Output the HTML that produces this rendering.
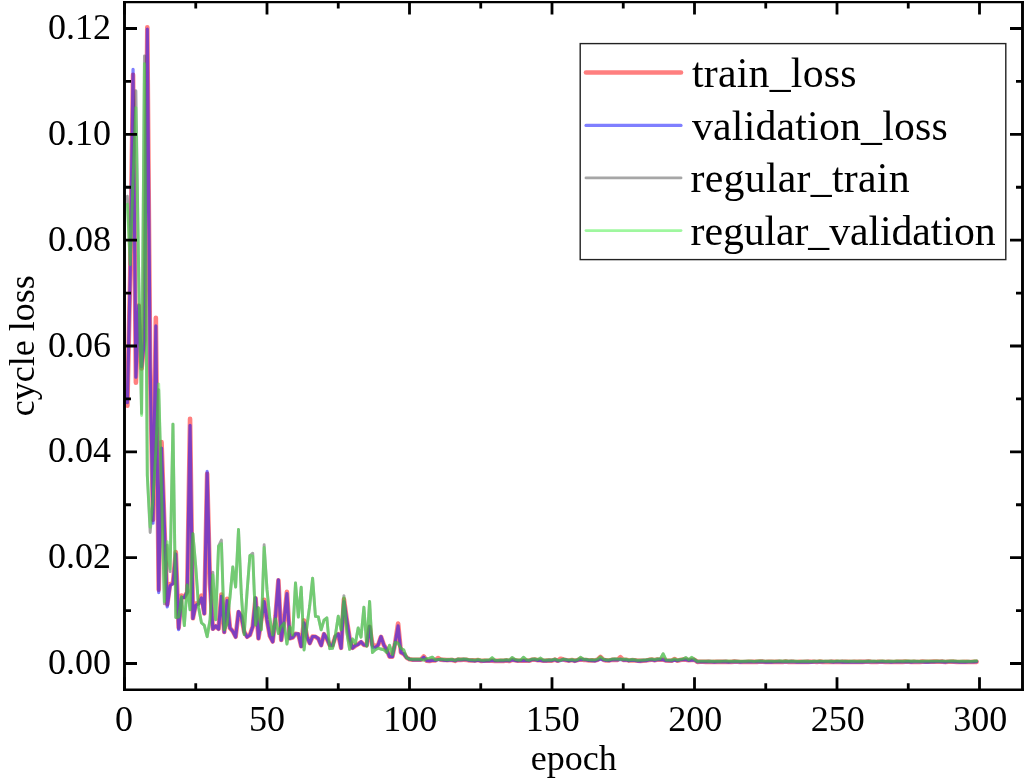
<!DOCTYPE html>
<html lang="en"><head><meta charset="utf-8"><title>cycle loss</title>
<style>html,body{margin:0;padding:0;background:#fff;overflow:hidden}svg{display:block}</style>
</head><body>
<svg width="1025" height="779" viewBox="0 0 1025 779">
<rect width="1025" height="779" fill="#fff"/>
<g fill="none" stroke-linejoin="round" stroke-linecap="round">
<polyline points="127.35,405.79 130.20,275.09 133.05,74.85 135.90,382.73 138.75,305.56 141.60,368.44 144.45,340.71 147.30,27.22 150.15,367.16 153.00,519.78 155.85,317.74 158.70,589.63 161.55,442.09 164.40,525.92 167.25,604.45 170.10,583.91 172.95,583.28 175.80,552.16 178.65,627.73 181.50,595.55 184.35,597.04 187.20,592.06 190.05,418.81 192.90,618.21 195.75,603.49 198.60,603.39 201.45,595.55 204.30,613.45 207.15,473.84 210.00,584.12 212.85,628.79 215.70,626.24 218.55,628.79 221.40,594.49 224.25,631.97 227.10,598.72 229.95,628.05 232.80,631.22 235.65,636.73 238.50,611.95 241.35,616.40 244.20,631.75 247.05,636.73 249.90,634.92 252.75,626.46 255.60,598.20 258.45,638.32 261.30,620.11 264.15,599.78 267.00,620.11 269.85,635.98 272.70,641.49 275.55,615.87 278.40,580.20 281.25,639.90 284.10,620.11 286.95,591.85 289.80,638.32 292.65,637.57 295.50,633.87 298.35,634.18 301.20,646.25 304.05,620.42 306.90,636.51 309.75,643.08 312.60,636.51 315.45,636.82 318.30,638.63 321.15,645.20 324.00,634.18 326.85,638.63 329.70,644.98 332.55,645.20 335.40,636.51 338.25,634.18 341.10,647.84 343.95,599.25 346.80,620.11 349.65,638.63 352.50,647.84 355.35,645.82 358.20,644.14 361.05,642.12 363.90,644.98 366.75,645.20 369.60,626.77 372.45,644.67 375.30,646.04 378.15,644.98 381.00,636.82 383.85,644.98 386.70,649.74 389.55,656.62 392.40,656.62 395.25,642.33 398.10,623.60 400.95,652.39 403.80,653.97 406.65,657.68 409.50,659.27 412.35,659.80 415.20,659.80 418.05,659.80 420.90,659.80 423.75,656.40 426.60,660.66 429.45,661.04 432.30,660.25 435.15,660.48 438.00,658.12 440.85,659.73 443.70,659.85 446.55,660.08 449.40,660.00 452.25,660.05 455.10,660.91 457.95,659.74 460.80,659.85 463.65,659.81 466.50,659.83 469.35,660.44 472.20,660.21 475.05,660.61 477.90,660.02 480.75,660.90 483.60,660.67 486.45,660.68 489.30,660.73 492.15,660.60 495.00,660.87 497.85,660.91 500.70,660.70 503.55,660.86 506.40,660.41 509.25,661.03 512.10,659.78 514.95,660.19 517.80,660.73 520.65,660.71 523.50,660.58 526.35,660.47 529.20,660.82 532.05,659.71 534.90,659.53 537.75,660.19 540.60,660.19 543.45,660.72 546.30,660.65 549.15,660.47 552.00,660.60 554.85,659.61 557.70,660.80 560.55,658.69 563.40,659.55 566.25,660.33 569.10,660.60 571.95,660.04 574.80,660.83 577.65,660.11 580.50,659.46 583.35,659.83 586.20,659.94 589.05,660.55 591.90,660.30 594.75,660.58 597.60,659.74 600.45,656.97 603.30,659.71 606.15,660.40 609.00,660.54 611.85,659.88 614.70,659.70 617.55,659.85 620.40,657.20 623.25,659.91 626.10,659.78 628.95,660.58 631.80,660.15 634.65,660.38 637.50,660.81 640.35,660.87 643.20,660.68 646.05,660.46 648.90,659.88 651.75,659.59 654.60,660.28 657.45,659.57 660.30,659.69 663.15,659.52 666.00,660.48 668.85,660.74 671.70,660.67 674.55,658.98 677.40,660.72 680.25,659.97 683.10,659.52 685.95,659.75 688.80,660.28 691.65,660.02 694.50,659.75 697.35,661.91 700.20,661.77 703.05,661.68 705.90,661.90 708.75,661.89 711.60,661.94 714.45,661.88 717.30,661.83 720.15,661.89 723.00,661.92 725.85,661.85 728.70,661.97 731.55,661.84 734.40,661.66 737.25,661.73 740.10,662.03 742.95,661.97 745.80,661.98 748.65,661.74 751.50,661.88 754.35,661.85 757.20,661.85 760.05,661.56 762.90,661.67 765.75,662.06 768.60,661.86 771.45,661.88 774.30,661.87 777.15,661.73 780.00,661.89 782.85,661.94 785.70,661.58 788.55,661.97 791.40,661.72 794.25,661.87 797.10,661.94 799.95,661.79 802.80,662.04 805.65,661.84 808.50,661.83 811.35,661.81 814.20,661.82 817.05,662.06 819.90,661.60 822.75,661.91 825.60,662.02 828.45,661.99 831.30,661.73 834.15,661.90 837.00,661.79 839.85,661.97 842.70,661.90 845.55,661.91 848.40,661.90 851.25,662.04 854.10,661.88 856.95,661.91 859.80,661.89 862.65,661.83 865.50,661.80 868.35,661.66 871.20,661.91 874.05,661.96 876.90,661.89 879.75,661.68 882.60,661.74 885.45,662.03 888.30,661.86 891.15,662.01 894.00,662.07 896.85,661.90 899.70,661.75 902.55,661.91 905.40,661.64 908.25,661.81 911.10,661.95 913.95,661.82 916.80,661.96 919.65,661.90 922.50,661.65 925.35,661.75 928.20,661.75 931.05,661.82 933.90,661.59 936.75,661.66 939.60,661.72 942.45,661.65 945.30,662.08 948.15,661.77 951.00,661.73 953.85,661.67 956.70,661.93 959.55,662.05 962.40,662.02 965.25,661.86 968.10,662.06 970.95,662.00 973.80,661.86 976.65,661.83" stroke="#ff0000" stroke-opacity="0.5" stroke-width="4.6"/>
<polyline points="127.35,402.62 130.20,275.09 133.05,69.25 135.90,377.21 138.75,305.26 141.60,366.62 144.45,340.71 147.30,29.04 150.15,367.16 153.00,523.26 155.85,325.90 158.70,592.58 161.55,448.14 164.40,525.92 167.25,606.87 170.10,585.72 172.95,583.58 175.80,553.97 178.65,629.62 181.50,597.90 184.35,597.34 187.20,592.06 190.05,425.39 192.90,618.51 195.75,605.30 198.60,603.69 201.45,597.90 204.30,613.75 207.15,471.42 210.00,584.12 212.85,629.09 215.70,625.94 218.55,629.09 221.40,596.31 224.25,632.27 227.10,600.54 229.95,628.05 232.80,631.22 235.65,637.03 238.50,611.65 241.35,616.40 244.20,631.75 247.05,637.03 249.90,634.92 252.75,626.46 255.60,597.90 258.45,638.62 261.30,620.11 264.15,601.60 267.00,620.11 269.85,635.98 272.70,641.79 275.55,615.87 278.40,579.90 281.25,640.20 284.10,620.11 286.95,593.66 289.80,638.62 292.65,637.57 295.50,633.87 298.35,633.88 301.20,646.55 304.05,622.77 306.90,636.51 309.75,643.38 312.60,636.51 315.45,636.52 318.30,638.63 321.15,645.50 324.00,633.88 326.85,638.63 329.70,644.98 332.55,645.50 335.40,636.51 338.25,633.88 341.10,648.14 343.95,601.60 346.80,620.11 349.65,638.63 352.50,648.14 355.35,645.52 358.20,644.44 361.05,641.82 363.90,644.98 366.75,645.50 369.60,626.47 372.45,647.08 375.30,647.62 378.15,644.98 381.00,636.52 383.85,644.98 386.70,649.74 389.55,656.62 392.40,656.62 395.25,642.33 398.10,625.94 400.95,652.39 403.80,653.97 406.65,657.68 409.50,659.27 412.35,659.80 415.20,659.80 418.05,659.80 420.90,659.80 423.75,657.16 426.60,660.58 429.45,660.86 432.30,660.51 435.15,660.46 438.00,659.77 440.85,659.68 443.70,660.10 446.55,660.41 449.40,660.27 452.25,660.18 455.10,660.81 457.95,659.78 460.80,660.03 463.65,659.68 466.50,659.76 469.35,660.49 472.20,660.58 475.05,660.97 477.90,660.27 480.75,660.98 483.60,661.05 486.45,660.81 489.30,660.87 492.15,660.52 495.00,660.82 497.85,660.93 500.70,660.83 503.55,660.90 506.40,660.50 509.25,661.02 512.10,659.86 514.95,660.31 517.80,660.88 520.65,660.52 523.50,660.65 526.35,660.51 529.20,660.80 532.05,659.73 534.90,659.74 537.75,660.44 540.60,660.43 543.45,660.93 546.30,660.89 549.15,660.40 552.00,660.54 554.85,659.75 557.70,660.94 560.55,660.60 563.40,659.64 566.25,660.16 569.10,660.82 571.95,660.24 574.80,661.13 577.65,660.32 580.50,659.53 583.35,659.72 586.20,659.94 589.05,660.50 591.90,660.59 594.75,660.91 597.60,660.06 600.45,659.21 603.30,659.88 606.15,660.42 609.00,660.64 611.85,659.85 614.70,659.57 617.55,659.85 620.40,659.36 623.25,660.03 626.10,659.91 628.95,660.79 631.80,660.17 634.65,660.48 637.50,661.04 640.35,661.09 643.20,660.71 646.05,660.61 648.90,660.00 651.75,659.82 654.60,660.53 657.45,659.72 660.30,659.63 663.15,659.73 666.00,660.60 668.85,660.68 671.70,660.86 674.55,660.28 677.40,660.74 680.25,660.01 683.10,659.73 685.95,659.73 688.80,660.36 691.65,660.20 694.50,659.99 697.35,661.90 700.20,661.80 703.05,661.84 705.90,661.97 708.75,661.83 711.60,661.86 714.45,662.04 717.30,661.90 720.15,661.91 723.00,661.68 725.85,661.85 728.70,662.09 731.55,662.00 734.40,661.80 737.25,661.78 740.10,662.11 742.95,661.94 745.80,661.95 748.65,661.78 751.50,661.91 754.35,661.88 757.20,661.87 760.05,661.66 762.90,661.95 765.75,662.05 768.60,661.81 771.45,662.09 774.30,661.92 777.15,661.76 780.00,661.96 782.85,661.99 785.70,661.80 788.55,661.88 791.40,661.65 794.25,661.92 797.10,662.04 799.95,662.08 802.80,661.83 805.65,662.11 808.50,662.03 811.35,662.13 814.20,661.97 817.05,661.90 819.90,661.66 822.75,661.89 825.60,661.77 828.45,661.75 831.30,661.84 834.15,662.04 837.00,661.64 839.85,661.83 842.70,662.05 845.55,661.85 848.40,662.10 851.25,661.97 854.10,662.07 856.95,662.18 859.80,661.98 862.65,662.09 865.50,661.97 868.35,661.70 871.20,662.01 874.05,661.82 876.90,662.00 879.75,661.94 882.60,661.72 885.45,661.94 888.30,661.91 891.15,662.14 894.00,661.99 896.85,661.87 899.70,661.78 902.55,661.99 905.40,661.87 908.25,661.66 911.10,662.08 913.95,661.91 916.80,661.81 919.65,661.82 922.50,662.00 925.35,662.08 928.20,662.04 931.05,661.79 933.90,661.85 936.75,661.77 939.60,661.67 942.45,661.82 945.30,662.06 948.15,661.75 951.00,661.73 953.85,661.88 956.70,661.96 959.55,662.09 962.40,662.00 965.25,662.21 968.10,661.91 970.95,661.92 973.80,661.82 976.65,661.68" stroke="#0000ff" stroke-opacity="0.5" stroke-width="3.2"/>
<polyline points="127.35,196.24 130.20,264.69 133.05,179.84 135.90,90.75 138.75,277.21 141.60,413.39 144.45,55.83 147.30,475.12 150.15,532.45 153.00,499.99 155.85,450.24 158.70,389.73 161.55,494.17 164.40,603.89 167.25,545.31 170.10,571.61 172.95,424.13 175.80,617.46 178.65,617.12 181.50,596.64 184.35,625.59 187.20,585.00 190.05,609.71 192.90,533.67 195.75,566.66 198.60,607.41 201.45,622.75 204.30,625.40 207.15,636.70 210.00,620.11 212.85,572.30 215.70,619.77 218.55,546.02 221.40,540.02 224.25,629.82 227.10,623.81 229.95,597.35 232.80,567.00 235.65,586.96 238.50,529.43 241.35,594.71 244.20,634.58 247.05,592.06 249.90,555.55 252.75,553.25 255.60,625.06 258.45,607.75 261.30,629.82 264.15,544.78 267.00,589.42 269.85,618.52 272.70,635.11 275.55,618.86 278.40,633.52 281.25,626.46 284.10,623.10 286.95,644.11 289.80,626.80 292.65,635.11 295.50,582.88 298.35,617.12 301.20,587.11 304.05,649.93 306.90,626.46 309.75,605.29 312.60,578.12 315.45,616.40 318.30,616.93 321.15,629.82 324.00,620.11 326.85,617.80 329.70,648.68 332.55,648.34 335.40,634.92 338.25,616.22 341.10,629.82 343.95,595.58 346.80,632.28 349.65,649.40 352.50,638.97 355.35,643.58 358.20,627.86 361.05,637.23 363.90,607.22 366.75,646.22 369.60,601.40 372.45,652.57 375.30,649.74 378.15,648.15 381.00,649.02 383.85,649.74 386.70,652.57 389.55,645.32 392.40,654.69 395.25,642.33 398.10,643.20 400.95,648.34 403.80,650.08 406.65,657.68 409.50,659.27 412.35,659.27 415.20,659.27 418.05,659.27 420.90,659.27 423.75,660.14 426.60,658.77 429.45,658.34 432.30,657.16 435.15,659.72 438.00,659.45 440.85,659.10 443.70,659.51 446.55,659.69 449.40,659.53 452.25,659.31 455.10,660.40 457.95,659.04 460.80,659.23 463.65,659.07 466.50,659.19 469.35,659.80 472.20,659.88 475.05,660.29 477.90,659.55 480.75,660.20 483.60,660.42 486.45,660.19 489.30,660.07 492.15,657.87 495.00,660.44 497.85,660.53 500.70,660.15 503.55,660.29 506.40,659.73 509.25,660.22 512.10,657.43 514.95,659.61 517.80,660.31 520.65,660.16 523.50,657.25 526.35,659.81 529.20,660.23 532.05,659.29 534.90,659.04 537.75,659.70 540.60,658.07 543.45,660.18 546.30,660.13 549.15,659.85 552.00,660.13 554.85,659.13 557.70,660.22 560.55,660.32 563.40,659.11 566.25,659.58 569.10,660.27 571.95,659.71 574.80,660.42 577.65,659.76 580.50,657.32 583.35,659.17 586.20,659.48 589.05,660.05 591.90,659.72 594.75,660.15 597.60,659.40 600.45,656.90 603.30,659.26 606.15,659.77 609.00,660.20 611.85,659.27 614.70,658.92 617.55,659.10 620.40,659.14 623.25,659.40 626.10,659.43 628.95,660.19 631.80,659.76 634.65,659.74 637.50,660.31 640.35,660.20 643.20,660.03 646.05,659.91 648.90,659.44 651.75,659.14 654.60,659.67 657.45,658.95 660.30,659.14 663.15,653.74 666.00,659.84 668.85,660.16 671.70,660.11 674.55,659.16 677.40,660.19 680.25,659.60 683.10,659.11 685.95,657.59 688.80,659.81 691.65,657.52 694.50,659.33 697.35,661.30 700.20,661.27 703.05,661.15 705.90,661.23 708.75,661.05 711.60,661.22 714.45,661.47 717.30,661.26 720.15,661.31 723.00,661.11 725.85,661.03 728.70,661.39 731.55,661.36 734.40,661.02 737.25,661.18 740.10,661.40 742.95,661.40 745.80,661.19 748.65,661.16 751.50,661.11 754.35,661.38 757.20,661.15 760.05,660.96 762.90,661.02 765.75,661.32 768.60,661.31 771.45,661.27 774.30,661.47 777.15,661.23 780.00,661.05 782.85,661.24 785.70,660.99 788.55,661.28 791.40,660.98 794.25,661.13 797.10,661.42 799.95,661.46 802.80,661.27 805.65,661.26 808.50,661.07 811.35,661.43 814.20,661.21 817.05,661.38 819.90,661.09 822.75,661.38 825.60,661.31 828.45,661.19 831.30,660.96 834.15,661.37 837.00,661.09 839.85,661.13 842.70,661.07 845.55,661.31 848.40,661.50 851.25,661.10 854.10,661.17 856.95,661.39 859.80,661.27 862.65,661.19 865.50,661.27 868.35,661.02 871.20,661.17 874.05,661.18 876.90,661.33 879.75,661.12 882.60,661.22 885.45,661.38 888.30,661.10 891.15,661.20 894.00,661.40 896.85,661.23 899.70,661.25 902.55,661.20 905.40,661.18 908.25,661.21 911.10,661.32 913.95,661.12 916.80,661.10 919.65,661.37 922.50,661.14 925.35,661.16 928.20,661.36 931.05,661.12 933.90,661.21 936.75,661.13 939.60,661.09 942.45,661.04 945.30,661.36 948.15,661.23 951.00,661.06 953.85,661.14 956.70,661.29 959.55,661.36 962.40,661.26 965.25,661.51 968.10,661.27 970.95,661.36 973.80,661.25 976.65,661.05" stroke="#4d4d4d" stroke-opacity="0.5" stroke-width="2.9"/>
<polyline points="127.35,204.18 130.20,264.69 133.05,179.84 135.90,107.68 138.75,277.21 141.60,415.51 144.45,63.76 147.30,475.12 150.15,527.16 153.00,499.99 155.85,450.24 158.70,383.91 161.55,494.17 164.40,601.77 167.25,541.60 170.10,568.97 172.95,424.13 175.80,617.46 178.65,617.12 181.50,596.64 184.35,625.59 187.20,585.00 190.05,609.71 192.90,533.67 195.75,566.66 198.60,607.41 201.45,622.75 204.30,625.40 207.15,636.70 210.00,620.11 212.85,574.94 215.70,619.77 218.55,546.02 221.40,543.72 224.25,629.82 227.10,623.81 229.95,597.35 232.80,567.00 235.65,586.96 238.50,529.43 241.35,594.71 244.20,634.58 247.05,592.06 249.90,555.55 252.75,555.89 255.60,625.06 258.45,607.75 261.30,629.82 264.15,547.42 267.00,589.42 269.85,618.52 272.70,635.11 275.55,618.86 278.40,633.52 281.25,626.46 284.10,623.10 286.95,644.11 289.80,626.80 292.65,635.11 295.50,582.88 298.35,617.12 301.20,587.11 304.05,649.93 306.90,626.46 309.75,605.29 312.60,578.12 315.45,616.40 318.30,616.93 321.15,629.82 324.00,620.11 326.85,617.80 329.70,648.68 332.55,648.34 335.40,634.92 338.25,616.22 341.10,629.82 343.95,597.70 346.80,632.28 349.65,649.40 352.50,638.97 355.35,643.58 358.20,627.86 361.05,637.23 363.90,607.22 366.75,646.22 369.60,601.40 372.45,652.57 375.30,649.74 378.15,648.15 381.00,649.02 383.85,649.74 386.70,652.57 389.55,645.32 392.40,654.69 395.25,642.33 398.10,643.20 400.95,648.34 403.80,650.08 406.65,657.68 409.50,659.27 412.35,659.27 415.20,659.27 418.05,659.27 420.90,659.27 423.75,660.14 426.60,658.42 429.45,658.16 432.30,657.15 435.15,659.77 438.00,659.62 440.85,659.08 443.70,659.34 446.55,659.69 449.40,659.44 452.25,659.34 455.10,660.34 457.95,658.99 460.80,659.33 463.65,658.99 466.50,659.09 469.35,659.73 472.20,659.86 475.05,660.13 477.90,659.44 480.75,660.04 483.60,660.29 486.45,659.87 489.30,659.89 492.15,657.61 495.00,660.10 497.85,660.37 500.70,659.91 503.55,660.14 506.40,659.63 509.25,660.10 512.10,657.59 514.95,659.34 517.80,659.93 520.65,660.06 523.50,657.20 526.35,659.69 529.20,660.21 532.05,658.98 534.90,658.98 537.75,659.53 540.60,658.13 543.45,660.15 546.30,660.00 549.15,659.89 552.00,659.98 554.85,659.13 557.70,660.11 560.55,660.39 563.40,659.06 566.25,659.65 569.10,659.93 571.95,659.47 574.80,660.11 577.65,659.65 580.50,657.25 583.35,659.21 586.20,659.30 589.05,659.87 591.90,659.81 594.75,659.92 597.60,659.19 600.45,656.87 603.30,659.08 606.15,659.94 609.00,659.81 611.85,659.11 614.70,658.95 617.55,659.00 620.40,659.24 623.25,658.99 626.10,659.23 628.95,660.00 631.80,659.48 634.65,659.80 637.50,660.33 640.35,660.16 643.20,660.03 646.05,659.81 648.90,659.40 651.75,658.91 654.60,659.50 657.45,658.96 660.30,658.86 663.15,653.73 666.00,659.93 668.85,660.12 671.70,660.07 674.55,658.91 677.40,660.01 680.25,659.41 683.10,658.91 685.95,657.65 688.80,659.70 691.65,657.21 694.50,659.32 697.35,661.46 700.20,661.17 703.05,661.17 705.90,661.13 708.75,661.18 711.60,661.15 714.45,661.25 717.30,661.17 720.15,661.19 723.00,661.08 725.85,661.14 728.70,661.07 731.55,661.28 734.40,661.14 737.25,661.23 740.10,661.23 742.95,661.17 745.80,661.19 748.65,661.07 751.50,661.15 754.35,661.44 757.20,661.02 760.05,661.00 762.90,661.17 765.75,661.17 768.60,661.17 771.45,661.15 774.30,661.25 777.15,661.10 780.00,661.00 782.85,661.31 785.70,661.02 788.55,661.22 791.40,661.14 794.25,661.21 797.10,661.17 799.95,661.41 802.80,661.22 805.65,661.11 808.50,661.26 811.35,661.34 814.20,661.16 817.05,661.29 819.90,661.00 822.75,661.12 825.60,661.29 828.45,661.21 831.30,661.11 834.15,661.34 837.00,660.92 839.85,661.08 842.70,661.09 845.55,661.32 848.40,661.22 851.25,661.11 854.10,661.28 856.95,661.25 859.80,661.09 862.65,661.36 865.50,661.31 868.35,661.19 871.20,661.30 874.05,661.28 876.90,661.09 879.75,661.09 882.60,660.97 885.45,661.23 888.30,661.23 891.15,661.23 894.00,661.26 896.85,660.99 899.70,661.16 902.55,661.23 905.40,661.04 908.25,660.89 911.10,661.28 913.95,661.02 916.80,661.32 919.65,661.24 922.50,661.19 925.35,661.11 928.20,661.02 931.05,661.10 933.90,661.09 936.75,660.99 939.60,661.11 942.45,661.11 945.30,661.12 948.15,661.11 951.00,660.97 953.85,661.01 956.70,661.13 959.55,661.30 962.40,661.08 965.25,661.24 968.10,661.14 970.95,661.33 973.80,661.05 976.65,661.06" stroke="#40f040" stroke-opacity="0.5" stroke-width="2.9"/>
</g>
<g stroke="#000" stroke-width="2.8" fill="none" stroke-linecap="butt">
<path d="M124.5 0.9499999999999997V691.0M1022.5 0.9499999999999997V691.0" stroke-width="2.9"/>
<path d="M123.05 2.05H1023.95" stroke-width="2.25"/>
<path d="M123.05 689.75H1023.95" stroke-width="2.55"/>
<path d="M124.50 689.75v-12.5M124.50 2.05v12.5"/>
<path d="M195.75 689.75v-6.5M195.75 2.05v6.5"/>
<path d="M267.00 689.75v-12.5M267.00 2.05v12.5"/>
<path d="M338.25 689.75v-6.5M338.25 2.05v6.5"/>
<path d="M409.50 689.75v-12.5M409.50 2.05v12.5"/>
<path d="M480.75 689.75v-6.5M480.75 2.05v6.5"/>
<path d="M552.00 689.75v-12.5M552.00 2.05v12.5"/>
<path d="M623.25 689.75v-6.5M623.25 2.05v6.5"/>
<path d="M694.50 689.75v-12.5M694.50 2.05v12.5"/>
<path d="M765.75 689.75v-6.5M765.75 2.05v6.5"/>
<path d="M837.00 689.75v-12.5M837.00 2.05v12.5"/>
<path d="M908.25 689.75v-6.5M908.25 2.05v6.5"/>
<path d="M979.50 689.75v-12.5M979.50 2.05v12.5"/>
<path d="M124.5 663.50h12.5M1022.5 663.50h-12.5"/>
<path d="M124.5 610.58h6.5M1022.5 610.58h-6.5"/>
<path d="M124.5 557.67h12.5M1022.5 557.67h-12.5"/>
<path d="M124.5 504.75h6.5M1022.5 504.75h-6.5"/>
<path d="M124.5 451.83h12.5M1022.5 451.83h-12.5"/>
<path d="M124.5 398.92h6.5M1022.5 398.92h-6.5"/>
<path d="M124.5 346.00h12.5M1022.5 346.00h-12.5"/>
<path d="M124.5 293.08h6.5M1022.5 293.08h-6.5"/>
<path d="M124.5 240.16h12.5M1022.5 240.16h-12.5"/>
<path d="M124.5 187.25h6.5M1022.5 187.25h-6.5"/>
<path d="M124.5 134.33h12.5M1022.5 134.33h-12.5"/>
<path d="M124.5 81.41h6.5M1022.5 81.41h-6.5"/>
<path d="M124.5 28.50h12.5M1022.5 28.50h-12.5"/>
</g>
<g font-family="'Liberation Serif', 'Times New Roman', serif" fill="#000" font-size="36">
<text x="110.9" y="674.0" text-anchor="end">0.00</text>
<text x="110.9" y="568.2" text-anchor="end">0.02</text>
<text x="110.9" y="462.3" text-anchor="end">0.04</text>
<text x="110.9" y="356.5" text-anchor="end">0.06</text>
<text x="110.9" y="250.7" text-anchor="end">0.08</text>
<text x="110.9" y="144.8" text-anchor="end">0.10</text>
<text x="110.9" y="39.0" text-anchor="end">0.12</text>
<text x="124.1" y="731.4" text-anchor="middle">0</text>
<text x="267.0" y="731.4" text-anchor="middle">50</text>
<text x="410.3" y="731.4" text-anchor="middle">100</text>
<text x="552.8" y="731.4" text-anchor="middle">150</text>
<text x="695.3" y="731.4" text-anchor="middle">200</text>
<text x="837.8" y="731.4" text-anchor="middle">250</text>
<text x="980.3" y="731.4" text-anchor="middle">300</text>
<text x="573.8" y="769.6" text-anchor="middle">epoch</text>
<text transform="translate(33.8 345.7) rotate(-90)" text-anchor="middle">cycle loss</text>
</g>
<rect x="580.2" y="43.6" width="425.6" height="216" fill="#fff" stroke="#222" stroke-width="1.4"/>
<g fill="none" stroke-linecap="round">
<path d="M586 72.5H681" stroke="#ff0000" stroke-opacity="0.5" stroke-width="4.6"/>
<path d="M586 125.4H681" stroke="#0000ff" stroke-opacity="0.5" stroke-width="3.2"/>
<path d="M586 177.9H681" stroke="#4d4d4d" stroke-opacity="0.5" stroke-width="2.9"/>
<path d="M586 230.6H681" stroke="#40f040" stroke-opacity="0.5" stroke-width="2.9"/>
</g>
<g font-family="'Liberation Serif', 'Times New Roman', serif" fill="#000" font-size="41.8">
<text x="692.0" y="86.8" textLength="164.6">train_loss</text>
<text x="692.0" y="139.7" textLength="255.8">validation_loss</text>
<text x="690.6" y="192.2" textLength="219">regular_train</text>
<text x="690.6" y="244.9" textLength="305">regular_validation</text>
</g>
</svg>
</body></html>
